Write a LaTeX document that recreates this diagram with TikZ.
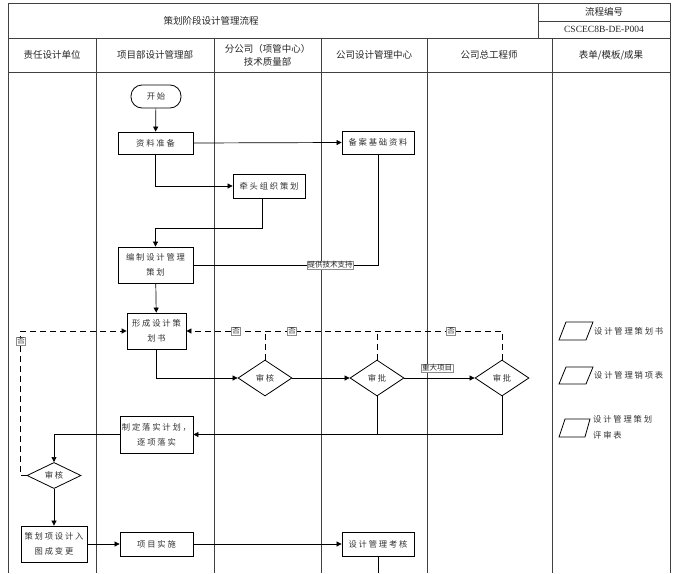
\documentclass[tikz,border=0pt]{standalone}
\usepackage{fontspec}
\setmainfont{Liberation Serif}
\newfontfamily\cjk{Noto Sans CJK SC}
\newfontfamily\cjksp[LetterSpace=22]{Noto Sans CJK SC}
\usetikzlibrary{shapes.geometric,arrows.meta}
\tikzset{
  lane/.style={draw=black!75, line width=0.9pt},
  box/.style={draw=black, line width=0.8pt, fill=white, inner sep=1pt, align=center,
    font=\cjksp\fontsize{8.3}{15}\selectfont, text=black!80},
  term/.style={box, rounded corners=11pt},
  dia/.style={diamond, draw=black, line width=0.8pt, fill=white, inner sep=0pt,
    font=\cjksp\fontsize{8.3}{10}\selectfont, text=black!80},
  arr/.style={-{Triangle[length=5pt,width=5pt]}, line width=0.7pt},
  conn/.style={line width=0.7pt},
  dsh/.style={line width=0.8pt, dash pattern=on 6pt off 4pt},
  tag/.style={draw=black!45, fill=white, inner sep=0.8pt, font=\cjk\fontsize{7.5}{8}\selectfont, text=black!85},
  hdr/.style={font=\cjk\fontsize{9.5}{13}\selectfont, align=center, text=black!85},
  doc/.style={font=\cjksp\fontsize{8.3}{16}\selectfont, text=black!80, align=left, inner sep=0pt},
}
\begin{document}
\begin{tikzpicture}[x=1pt,y=-1pt]
\useasboundingbox (0,0) rectangle (677,573);
% frame and lanes
\draw[lane] (8,573) -- (8,3) -- (670,3) -- (670,573);
\draw[lane] (8,38) -- (670,38);
\draw[lane] (8,72) -- (670,72);
\draw[lane] (538,3) -- (538,38);
\draw[lane] (538,21) -- (670,21);
\foreach \x in {96,214,321,427,552} \draw[lane] (\x,38) -- (\x,573);
% header texts
\node[hdr] (title) at (211,20.5) {策划阶段设计管理流程};
\node[hdr] (lcbh) at (604,12) {流程编号};
\node[hdr, font=\fontsize{9.5}{11}\selectfont] (code) at (604,29.5) {CSCEC8B-DE-P004};
\node[hdr] (h1) at (52,55) {责任设计单位};
\node[hdr] (h2) at (155,55) {项目部设计管理部};
\node[hdr] (h3) at (267.5,55) {分公司（项管中心）\\技术质量部};
\node[hdr] (h4) at (374,55) {公司设计管理中心};
\node[hdr] (h5) at (489,55) {公司总工程师};
\node[hdr] (h6) at (611,55) {表单/模板/成果};
% nodes
\node[term, minimum width=50pt, minimum height=23pt] (start) at (156,96.5) {开始};
\node[box, minimum width=75pt, minimum height=22pt] (zlzb) at (155.5,143) {资料准备};
\node[box, minimum width=72pt, minimum height=23pt] (beian) at (378,142.5) {备案基础资料};
\node[box, minimum width=72pt, minimum height=24pt] (qiantou) at (269,186) {牵头组织策划};
\node[box, minimum width=75pt, minimum height=36pt] (bianzhi) at (155.5,265) {编制设计管理\\策划};
\node[box, minimum width=59pt, minimum height=36pt] (xingcheng) at (156.5,331) {形成设计策\\划书};
\node[dia, minimum width=54pt, minimum height=36pt] (shenhe1) at (265,378) {审核};
\node[dia, minimum width=54pt, minimum height=36pt] (shenpi1) at (377,378) {审批};
\node[dia, minimum width=54pt, minimum height=36pt] (shenpi2) at (502,378) {审批};
\node[box, minimum width=73pt, minimum height=37pt] (zhiding) at (156.5,434.5) {制定落实计划，\\逐项落实};
\node[dia, minimum width=54pt, minimum height=24pt] (shenhe2) at (54,475.5) {审核};
\node[box, minimum width=66pt, minimum height=36pt] (cehua) at (54,544) {策划项设计入\\图成变更};
\node[box, minimum width=73pt, minimum height=24pt] (xmss) at (156.5,544) {项目实施};
\node[box, minimum width=72pt, minimum height=24pt] (kaohe) at (378,544) {设计管理考核};
\coordinate (kend) at (378,573);
% connectors
\draw[arr] (start) -- (zlzb);
\draw[arr] (zlzb.east) -- (beian.west);
\draw[arr] (zlzb.south) |- (qiantou.west);
\draw[arr] ([xshift=-7pt]qiantou.south) -- ++(0,30) -| (bianzhi.north);
\draw[conn] (beian.south) |- (bianzhi.east);
\node[tag] (tjzc) at (330,265) {提供技术支持};
\draw[arr] (bianzhi) -- (xingcheng);
\draw[arr] (xingcheng.south) |- (shenhe1.west);
\draw[arr] (shenhe1.east) -- (shenpi1.west);
\draw[arr] (shenpi1.east) -- (shenpi2.west);
\node[tag] (zdxm) at (437,368) {重大项目};
\draw[arr] (shenpi2.south) |- (zhiding.east);
\draw[conn] (shenpi1.south) -- (shenpi1.south |- zhiding.east);
\draw[arr] (zhiding.west) -| (shenhe2.north);
\draw[arr] (shenhe2.south) -- (cehua.north);
\draw[arr] (cehua.east) -- (xmss.west);
\draw[arr] (xmss.east) -- (kaohe.west);
\draw[conn] (kaohe.south) -- (kend);
% dashed returns
\draw[dsh, -{Triangle[length=5pt,width=5pt]}] (shenhe2.west) -- ++(-6,0) |- (xingcheng.west);
\draw[dsh, -{Triangle[length=5pt,width=5pt]}] (shenpi2.north) |- (xingcheng.east);
\draw[dsh] (shenhe1.north) -- (shenhe1.north |- xingcheng.east);
\draw[dsh] (shenpi1.north) -- (shenpi1.north |- xingcheng.east);
\node[tag] (no1) at (21,341) {否};
\node[tag] (no2) at (236,331) {否};
\node[tag] (no3) at (292,331) {否};
\node[tag] (no4) at (451,331) {否};
% documents column
\draw[line width=0.8pt] (566,322) -- (593,322) -- (586,340) -- (559,340) -- cycle;
\node[doc, anchor=west] (d1) at (594,331) {设计管理策划书};
\draw[line width=0.8pt] (566,367) -- (593,367) -- (586,384) -- (559,384) -- cycle;
\node[doc, anchor=west] (d2) at (594,375.5) {设计管理销项表};
\draw[line width=0.8pt] (565,419) -- (590,419) -- (585,437) -- (559,437) -- cycle;
\node[doc, anchor=west] (d3) at (593,427) {设计管理策划\\评审表};
\end{tikzpicture}
\end{document}
